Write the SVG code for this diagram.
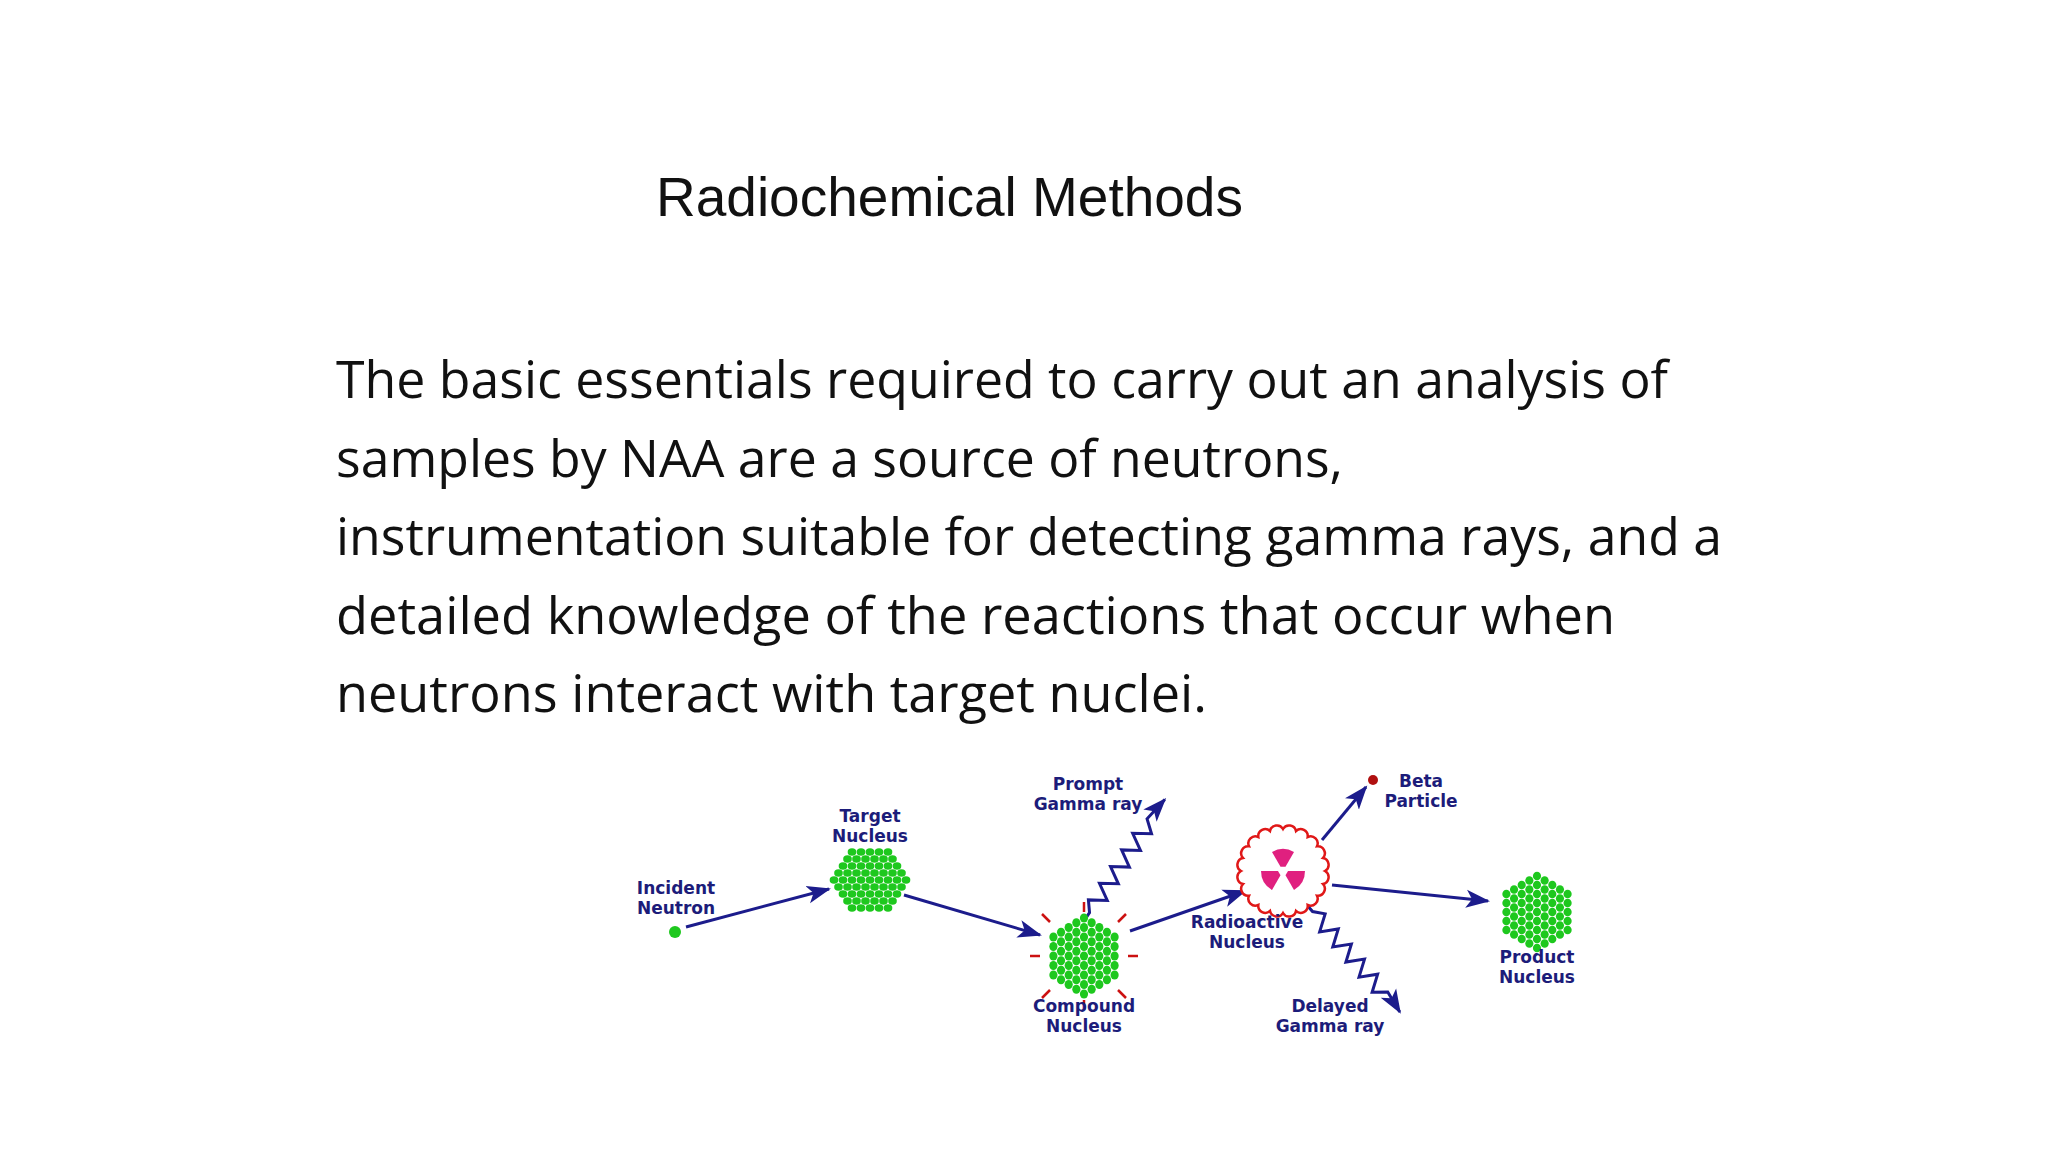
<svg xmlns="http://www.w3.org/2000/svg" width="2048" height="1152" viewBox="0 0 2048 1152">
<style>
.title{font-family:"Liberation Sans",Arial,sans-serif;font-size:55px;fill:#111}
.body{font-family:"Open Sans","Liberation Sans",sans-serif;font-size:51px;fill:#111}
.lbl{font-family:"DejaVu Sans",Verdana,sans-serif;font-size:17px;font-weight:bold;fill:#1c1c7a;text-anchor:middle}
.arr{stroke:#1c1c8c;stroke-width:3;fill:none;marker-end:url(#ah)}
.wave{stroke:#1c1c8c;stroke-width:3;fill:none;marker-end:url(#ah)}
.dot{fill:#1ec81e}
</style>
<defs>
<marker id="ah" markerUnits="userSpaceOnUse" markerWidth="26" markerHeight="20" refX="22" refY="10" orient="auto"><path d="M0,1 L24,10 L0,19 L6,10 Z" fill="#1c1c8c"/></marker>
<g id="nuc">
<circle class="dot" cx="-40" cy="0" r="4.8"/><circle class="dot" cx="-30" cy="0" r="4.8"/><circle class="dot" cx="-20" cy="0" r="4.8"/><circle class="dot" cx="-10" cy="0" r="4.8"/><circle class="dot" cx="0" cy="0" r="4.8"/><circle class="dot" cx="10" cy="0" r="4.8"/><circle class="dot" cx="20" cy="0" r="4.8"/><circle class="dot" cx="30" cy="0" r="4.8"/><circle class="dot" cx="40" cy="0" r="4.8"/>
<circle class="dot" cx="-35" cy="-9" r="4.8"/><circle class="dot" cx="-25" cy="-9" r="4.8"/><circle class="dot" cx="-15" cy="-9" r="4.8"/><circle class="dot" cx="-5" cy="-9" r="4.8"/><circle class="dot" cx="5" cy="-9" r="4.8"/><circle class="dot" cx="15" cy="-9" r="4.8"/><circle class="dot" cx="25" cy="-9" r="4.8"/><circle class="dot" cx="35" cy="-9" r="4.8"/>
<circle class="dot" cx="-35" cy="9" r="4.8"/><circle class="dot" cx="-25" cy="9" r="4.8"/><circle class="dot" cx="-15" cy="9" r="4.8"/><circle class="dot" cx="-5" cy="9" r="4.8"/><circle class="dot" cx="5" cy="9" r="4.8"/><circle class="dot" cx="15" cy="9" r="4.8"/><circle class="dot" cx="25" cy="9" r="4.8"/><circle class="dot" cx="35" cy="9" r="4.8"/>
<circle class="dot" cx="-30" cy="-18" r="4.8"/><circle class="dot" cx="-20" cy="-18" r="4.8"/><circle class="dot" cx="-10" cy="-18" r="4.8"/><circle class="dot" cx="0" cy="-18" r="4.8"/><circle class="dot" cx="10" cy="-18" r="4.8"/><circle class="dot" cx="20" cy="-18" r="4.8"/><circle class="dot" cx="30" cy="-18" r="4.8"/>
<circle class="dot" cx="-30" cy="18" r="4.8"/><circle class="dot" cx="-20" cy="18" r="4.8"/><circle class="dot" cx="-10" cy="18" r="4.8"/><circle class="dot" cx="0" cy="18" r="4.8"/><circle class="dot" cx="10" cy="18" r="4.8"/><circle class="dot" cx="20" cy="18" r="4.8"/><circle class="dot" cx="30" cy="18" r="4.8"/>
<circle class="dot" cx="-25" cy="-27" r="4.8"/><circle class="dot" cx="-15" cy="-27" r="4.8"/><circle class="dot" cx="-5" cy="-27" r="4.8"/><circle class="dot" cx="5" cy="-27" r="4.8"/><circle class="dot" cx="15" cy="-27" r="4.8"/><circle class="dot" cx="25" cy="-27" r="4.8"/>
<circle class="dot" cx="-25" cy="27" r="4.8"/><circle class="dot" cx="-15" cy="27" r="4.8"/><circle class="dot" cx="-5" cy="27" r="4.8"/><circle class="dot" cx="5" cy="27" r="4.8"/><circle class="dot" cx="15" cy="27" r="4.8"/><circle class="dot" cx="25" cy="27" r="4.8"/>
<circle class="dot" cx="-20" cy="-36" r="4.8"/><circle class="dot" cx="-10" cy="-36" r="4.8"/><circle class="dot" cx="0" cy="-36" r="4.8"/><circle class="dot" cx="10" cy="-36" r="4.8"/><circle class="dot" cx="20" cy="-36" r="4.8"/>
<circle class="dot" cx="-20" cy="36" r="4.8"/><circle class="dot" cx="-10" cy="36" r="4.8"/><circle class="dot" cx="0" cy="36" r="4.8"/><circle class="dot" cx="10" cy="36" r="4.8"/><circle class="dot" cx="20" cy="36" r="4.8"/>
</g>
</defs>
<rect width="2048" height="1152" fill="#fff"/>
<text class="title" x="656" y="216">Radiochemical Methods</text>
<g id="body-text">
<text class="body" x="336" y="398" textLength="1332" lengthAdjust="spacingAndGlyphs">The basic essentials required to carry out an analysis of</text>
<text class="body" x="336" y="477" textLength="1007" lengthAdjust="spacingAndGlyphs">samples by NAA are a source of neutrons,</text>
<text class="body" x="336" y="555" textLength="1386" lengthAdjust="spacingAndGlyphs">instrumentation suitable for detecting gamma rays, and a</text>
<text class="body" x="336" y="634" textLength="1279" lengthAdjust="spacingAndGlyphs">detailed knowledge of the reactions that occur when</text>
<text class="body" x="336" y="712" textLength="871" lengthAdjust="spacingAndGlyphs">neutrons interact with target nuclei.</text>
</g>
<g id="connectors">
<line class="arr" x1="686" y1="927" x2="829" y2="889"/>
<line class="arr" x1="904" y1="895" x2="1040" y2="935"/>
<line class="arr" x1="1130" y1="931" x2="1245" y2="891"/>
<line class="arr" x1="1322" y1="840" x2="1366" y2="787"/>
<line class="arr" x1="1332" y1="885" x2="1488" y2="901"/>
<path class="wave" transform="translate(1084,921) rotate(-56.4)" d="M0,0 L10,0 L20,-8 L30,8 L40,-8 L50,8 L60,-8 L70,8 L80,-8 L90,8 L100,-8 L110,8 L120,-4 L146,0"/>
<path class="wave" transform="translate(1306,904) rotate(49)" d="M0,0 L10,0 L20,-8 L30,8 L40,-8 L50,8 L60,-8 L70,8 L80,-8 L90,8 L100,-8 L110,8 L120,-4 L143,0"/>
</g>
<g id="incident-neutron">
<circle cx="675" cy="932" r="6" fill="#1ec81e"/>
<text class="lbl" x="676" y="894">Incident</text><text class="lbl" x="676" y="914">Neutron</text>
</g>
<g id="target-nucleus">
<use href="#nuc" transform="translate(870,880) scale(0.9,0.78)"/>
<text class="lbl" x="870" y="822">Target</text><text class="lbl" x="870" y="842">Nucleus</text>
</g>
<g id="compound-nucleus">
<g transform="translate(1084,956)" stroke="#cc1111" stroke-width="2.5">
<line x1="0" y1="-44" x2="0" y2="-54"/><line x1="0" y1="44" x2="0" y2="54"/><line x1="-44" y1="0" x2="-54" y2="0"/><line x1="44" y1="0" x2="54" y2="0"/>
<line x1="-34" y1="-34" x2="-42" y2="-42"/><line x1="34" y1="-34" x2="42" y2="-42"/><line x1="-34" y1="34" x2="-42" y2="42"/><line x1="34" y1="34" x2="42" y2="42"/>
</g>
<use href="#nuc" transform="translate(1084,956) rotate(90) scale(0.95,0.85)"/>
<text class="lbl" x="1084" y="1012">Compound</text><text class="lbl" x="1084" y="1032">Nucleus</text>
</g>
<g id="radioactive-nucleus">
<g transform="translate(1283,871)">
<path d="M42,0 A7,7 0 0 1 39.94,12.98 A7,7 0 0 1 33.98,24.69 A7,7 0 0 1 24.69,33.98 A7,7 0 0 1 12.98,39.94 A7,7 0 0 1 0,42 A7,7 0 0 1 -12.98,39.94 A7,7 0 0 1 -24.69,33.98 A7,7 0 0 1 -33.98,24.69 A7,7 0 0 1 -39.94,12.98 A7,7 0 0 1 -42,0 A7,7 0 0 1 -39.94,-12.98 A7,7 0 0 1 -33.98,-24.69 A7,7 0 0 1 -24.69,-33.98 A7,7 0 0 1 -12.98,-39.94 A7,7 0 0 1 0,-42 A7,7 0 0 1 12.98,-39.94 A7,7 0 0 1 24.69,-33.98 A7,7 0 0 1 33.98,-24.69 A7,7 0 0 1 39.94,-12.98 A7,7 0 0 1 42,0 Z" fill="#fff" stroke="#e01818" stroke-width="2.5"/>
<g fill="#e0207f">
<path d="M-2.5,-4.33 L-11,-19.05 A22,22 0 0 1 11,-19.05 L2.5,-4.33 Z"/>
<path transform="rotate(120)" d="M-2.5,-4.33 L-11,-19.05 A22,22 0 0 1 11,-19.05 L2.5,-4.33 Z"/>
<path transform="rotate(240)" d="M-2.5,-4.33 L-11,-19.05 A22,22 0 0 1 11,-19.05 L2.5,-4.33 Z"/>
</g>
</g>
<text class="lbl" x="1247" y="928">Radioactive</text><text class="lbl" x="1247" y="948">Nucleus</text>
</g>
<g id="beta-particle">
<circle cx="1373" cy="780" r="5" fill="#b01010"/>
<text class="lbl" x="1421" y="787">Beta</text><text class="lbl" x="1421" y="807">Particle</text>
</g>
<g id="prompt-gamma">
<text class="lbl" x="1088" y="790">Prompt</text><text class="lbl" x="1088" y="810">Gamma ray</text>
</g>
<g id="delayed-gamma">
<text class="lbl" x="1330" y="1012">Delayed</text><text class="lbl" x="1330" y="1032">Gamma ray</text>
</g>
<g id="product-nucleus">
<use href="#nuc" transform="translate(1537,912) rotate(90) scale(0.9,0.85)"/>
<text class="lbl" x="1537" y="963">Product</text><text class="lbl" x="1537" y="983">Nucleus</text>
</g>
</svg>
